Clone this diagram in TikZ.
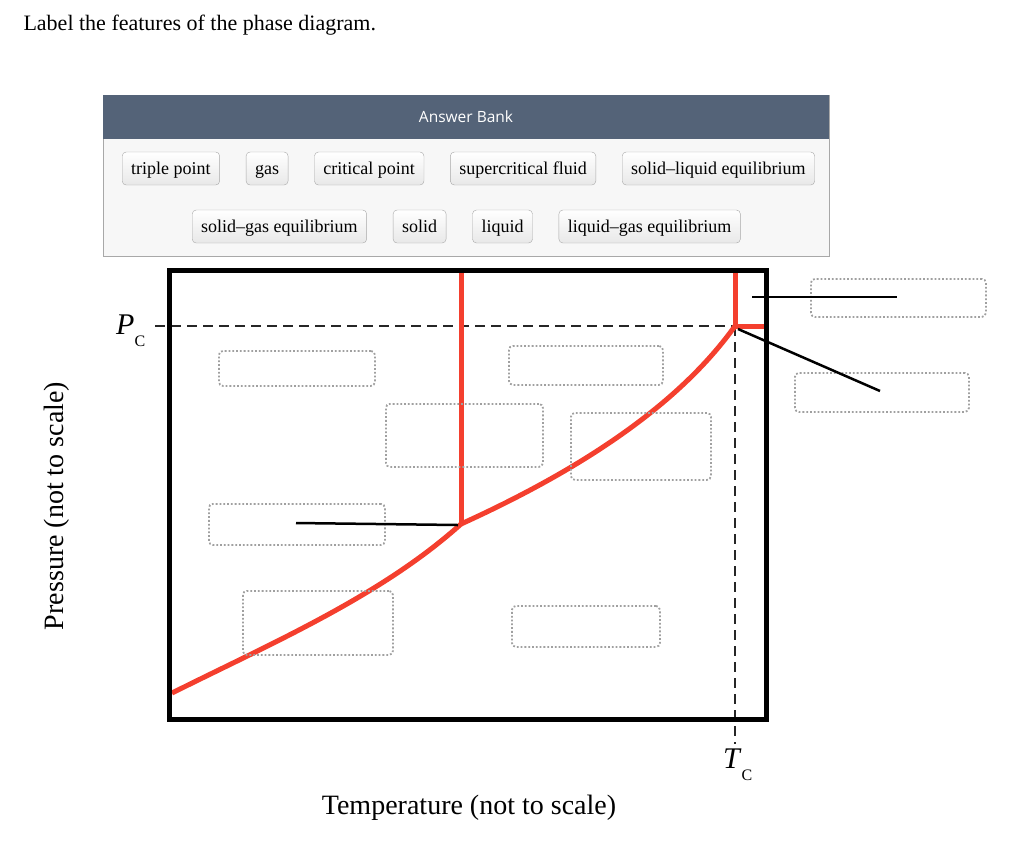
\documentclass[tikz,border=0pt]{standalone}
\usepackage{fontspec}
\setmainfont{Liberation Serif}
\newfontfamily\banksans{Open Sans}
\usepackage{tikz}
\usetikzlibrary{positioning}
\definecolor{bankhead}{HTML}{546378}
\definecolor{bankbody}{HTML}{F7F7F7}
\definecolor{bankedge}{HTML}{A8A8A8}
\definecolor{phasered}{HTML}{F43F2E}
\definecolor{slotgray}{HTML}{A0A0A0}

\begin{document}
\begin{tikzpicture}[
  x=1pt, y=-1pt,
  font=\fontsize{18}{21}\selectfont,
  node distance=26pt,
  chip/.style={draw=bankedge, top color=white, bottom color=black!9, rounded corners=4pt,
    minimum height=33pt, inner xsep=9pt, text height=13pt, text depth=2pt},
  slot/.style={draw=slotgray, line width=1.8pt, dotted, rounded corners=4pt, anchor=north west},
  phase/.style={draw=phasered, line width=5pt},
  lead/.style={draw=black, line width=2.5pt},
  guide/.style={draw=black!85, line width=1.5pt, dash pattern=on 10pt off 6pt},
  axis/.style={font=\fontsize{28}{32}\selectfont},
  crit/.style={inner sep=0pt, font=\fontsize{30}{32}\selectfont}
]
\useasboundingbox (0,0) rectangle (1024,855);

\node[anchor=base west, font=\fontsize{22}{26}\selectfont] (title) at (20,30) {Label the features of the phase diagram.};

% Answer bank panel
\fill[bankbody, draw=bankedge, line width=1pt] (103,95) rectangle (829,256);
\fill[bankhead] (103,95) rectangle (829,139);
\node[text=white, font=\banksans\fontsize{15.5}{18}\selectfont] (bank) at (466,117) {Answer Bank};

% Row 1 of answers
\node[chip, anchor=west] (a1) at (122,168.5) {triple point};
\node[chip, right=of a1] (a2) {gas};
\node[chip, right=of a2] (a3) {critical point};
\node[chip, right=of a3] (a4) {supercritical fluid};
\node[chip, right=of a4] (a5) {solid--liquid equilibrium};

% Row 2 of answers
\node[chip, anchor=west] (b1) at (192,226.5) {solid--gas equilibrium};
\node[chip, right=of b1] (b2) {solid};
\node[chip, right=of b2] (b3) {liquid};
\node[chip, right=of b3] (b4) {liquid--gas equilibrium};

% Key points of the diagram
\coordinate (start) at (172,693);
\coordinate (tp) at (461,524);
\coordinate (cp) at (735,326);
\coordinate (fusetop) at (461,270);
\coordinate (crittop) at (735,270);
\coordinate (critside) at (766,326);
\coordinate (ptick) at (155,326);
\coordinate (ttick) at (735,744);

% Dashed guides to P_C and T_C
\draw[guide] (ptick) -- (cp);
\draw[guide] (cp) -- (ttick);
\node[crit, anchor=base west] (pc) at (116,334) {\textit{P}\raisebox{-0.9ex}{\fontsize{16}{17}\selectfont C}};
\node[crit, anchor=base west] (tc) at (723,768) {\textit{T}\raisebox{-0.9ex}{\fontsize{16}{17}\selectfont C}};

% Phase boundaries
\draw[phase] (start) .. controls (272,643) and (381,596) .. (tp);
\draw[phase] (tp) .. controls (571,474) and (675,410) .. (cp);
\draw[phase] (tp) -- (fusetop);
\draw[phase] (cp) -- (crittop);
\draw[phase] (cp) -- (critside);

% Frame
\draw[line width=5pt] (169,270) rectangle (766,719);

% Empty label slots
\node[slot, minimum width=156pt, minimum height=35pt] (s1) at (218,350) {};
\node[slot, minimum width=154pt, minimum height=39pt] (s2) at (508,345) {};
\node[slot, minimum width=157pt, minimum height=63pt] (s3) at (385,403) {};
\node[slot, minimum width=140pt, minimum height=67pt] (s4) at (570,412) {};
\node[slot, minimum width=176pt, minimum height=41pt] (s5) at (208,503) {};
\node[slot, minimum width=150pt, minimum height=64pt] (s6) at (242,590) {};
\node[slot, minimum width=148pt, minimum height=41pt] (s7) at (511,605) {};
\node[slot, minimum width=175pt, minimum height=38pt] (s8) at (810,278) {};
\node[slot, minimum width=174pt, minimum height=39pt] (s9) at (794,372) {};

% Leader lines
\coordinate (tpend) at (296,523);
\coordinate (tpnear) at (458,525);
\coordinate (toptip) at (752,297);
\coordinate (topend) at (897,297);
\coordinate (cpnear) at (738,329);
\coordinate (cpend) at (880,391);
\draw[lead] (tpend) -- (tpnear);
\draw[lead] (toptip) -- (topend);
\draw[lead] (cpnear) -- (cpend);

% Axis titles
\node[axis] (tlabel) at (469,808) {Temperature (not to scale)};
\node[axis, rotate=90] (plabel) at (57,506) {Pressure (not to scale)};
\end{tikzpicture}
\end{document}
